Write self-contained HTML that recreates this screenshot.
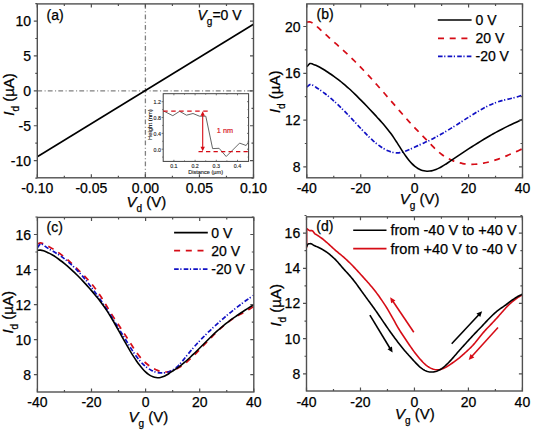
<!DOCTYPE html>
<html><head><meta charset="utf-8"><style>
html,body{margin:0;padding:0;background:#fff;}
svg{display:block;}
text{font-family:"Liberation Sans", sans-serif;fill:#000;stroke:#000;stroke-width:0.25px;}
svg{opacity:0.999;}
</style></head><body>
<svg width="533" height="431" viewBox="0 0 533 431">
<rect width="533" height="431" fill="#fff"/>
<path d="M37.3,90.85 H253.5" stroke="#808080" stroke-width="1.3" stroke-dasharray="4.8 2.5 1 2.2" fill="none"/>
<path d="M145.4,3.9 V177.8" stroke="#808080" stroke-width="1.3" stroke-dasharray="4.8 2.5 1 2.2" fill="none"/>
<path d="M37.3,156.7 L253.5,24.3" stroke="#000" stroke-width="1.6" fill="none"/>
<rect x="37.3" y="3.9" width="216.2" height="173.9" fill="none" stroke="#505050" stroke-width="1.4"/>
<path d="M37.30,177.8v-3.5 M37.30,3.9v3.5 M64.33,177.8v-2.0 M64.33,3.9v2.0 M91.35,177.8v-3.5 M91.35,3.9v3.5 M118.38,177.8v-2.0 M118.38,3.9v2.0 M145.40,177.8v-3.5 M145.40,3.9v3.5 M172.42,177.8v-2.0 M172.42,3.9v2.0 M199.45,177.8v-3.5 M199.45,3.9v3.5 M226.47,177.8v-2.0 M226.47,3.9v2.0 M253.50,177.8v-3.5 M253.50,3.9v3.5 M37.3,178.10h-2.0 M253.5,178.10h-2.0 M37.3,160.65h-3.5 M253.5,160.65h-3.5 M37.3,143.20h-2.0 M253.5,143.20h-2.0 M37.3,125.75h-3.5 M253.5,125.75h-3.5 M37.3,108.30h-2.0 M253.5,108.30h-2.0 M37.3,90.85h-3.5 M253.5,90.85h-3.5 M37.3,73.40h-2.0 M253.5,73.40h-2.0 M37.3,55.95h-3.5 M253.5,55.95h-3.5 M37.3,38.50h-2.0 M253.5,38.50h-2.0 M37.3,21.05h-3.5 M253.5,21.05h-3.5 M37.3,3.60h-2.0 M253.5,3.60h-2.0 " stroke="#505050" stroke-width="1.2" fill="none"/>
<text x="37.300000000000026" y="193.2" font-size="14" text-anchor="middle" >-0.10</text>
<text x="91.35000000000002" y="193.2" font-size="14" text-anchor="middle" >-0.05</text>
<text x="145.4" y="193.2" font-size="14" text-anchor="middle" >0.00</text>
<text x="199.45" y="193.2" font-size="14" text-anchor="middle" >0.05</text>
<text x="253.5" y="193.2" font-size="14" text-anchor="middle" >0.10</text>
<text x="30.999999999999996" y="26.049999999999983" font-size="14" text-anchor="end" >10</text>
<text x="30.999999999999996" y="60.94999999999999" font-size="14" text-anchor="end" >5</text>
<text x="30.999999999999996" y="95.85" font-size="14" text-anchor="end" >0</text>
<text x="30.999999999999996" y="130.75" font-size="14" text-anchor="end" >-5</text>
<text x="30.999999999999996" y="165.65" font-size="14" text-anchor="end" >-10</text>
<text x="46.5" y="19.6" font-size="14" text-anchor="start" >(a)</text>
<text x="197.5" y="19.5" font-size="14"><tspan font-style="italic">V</tspan><tspan font-size="10" dy="5">g</tspan><tspan dy="-5">=0 V</tspan></text>
<text x="126.4" y="207.3" font-size="15"><tspan font-style="italic">V</tspan><tspan font-size="10" dy="5">d</tspan><tspan dy="-5"> (V)</tspan></text>
<text transform="translate(14.0,115.7) rotate(-90)" font-size="15"><tspan font-style="italic">I</tspan><tspan font-size="10" dy="5">d</tspan><tspan dy="-5"> (µA)</tspan></text>
<rect x="163.2" y="93.7" width="85.4" height="67.7" fill="#fff" stroke="#404040" stroke-width="1.0"/>
<path d="M173.90,161.4v-1.6 M173.90,93.7v1.6 M184.50,161.4v-1.0 M184.50,93.7v1.0 M195.10,161.4v-1.6 M195.10,93.7v1.6 M205.70,161.4v-1.0 M205.70,93.7v1.0 M216.30,161.4v-1.6 M216.30,93.7v1.6 M226.90,161.4v-1.0 M226.90,93.7v1.0 M237.50,161.4v-1.6 M237.50,93.7v1.6 M163.2,157.12h-1.0 M248.6,157.12h-1.0 M163.2,149.20h-1.6 M248.6,149.20h-1.6 M163.2,141.28h-1.0 M248.6,141.28h-1.0 M163.2,133.36h-1.6 M248.6,133.36h-1.6 M163.2,125.44h-1.0 M248.6,125.44h-1.0 M163.2,117.52h-1.6 M248.6,117.52h-1.6 M163.2,109.60h-1.0 M248.6,109.60h-1.0 M163.2,101.68h-1.6 M248.6,101.68h-1.6 " stroke="#505050" stroke-width="0.8" fill="none"/>
<text x="173.9" y="167.9" font-size="5.3" text-anchor="middle" style="fill:#1a1a1a;stroke:#1a1a1a;stroke-width:0.12px">0.1</text>
<text x="195.10000000000002" y="167.9" font-size="5.3" text-anchor="middle" style="fill:#1a1a1a;stroke:#1a1a1a;stroke-width:0.12px">0.2</text>
<text x="216.3" y="167.9" font-size="5.3" text-anchor="middle" style="fill:#1a1a1a;stroke:#1a1a1a;stroke-width:0.12px">0.3</text>
<text x="237.5" y="167.9" font-size="5.3" text-anchor="middle" style="fill:#1a1a1a;stroke:#1a1a1a;stroke-width:0.12px">0.4</text>
<text x="160.89999999999998" y="104.17999999999998" font-size="5.3" text-anchor="end" style="fill:#1a1a1a;stroke:#1a1a1a;stroke-width:0.12px">1.2</text>
<text x="160.89999999999998" y="120.01999999999998" font-size="5.3" text-anchor="end" style="fill:#1a1a1a;stroke:#1a1a1a;stroke-width:0.12px">0.8</text>
<text x="160.89999999999998" y="135.85999999999999" font-size="5.3" text-anchor="end" style="fill:#1a1a1a;stroke:#1a1a1a;stroke-width:0.12px">0.4</text>
<text x="160.89999999999998" y="151.7" font-size="5.3" text-anchor="end" style="fill:#1a1a1a;stroke:#1a1a1a;stroke-width:0.12px">0.0</text>
<text x="205.6" y="173.9" font-size="5.6" text-anchor="middle" style="fill:#1a1a1a;stroke:#1a1a1a;stroke-width:0.12px">Distance (µm)</text>
<text transform="translate(152.3,124.6) rotate(-90)" font-size="5.9" text-anchor="middle" style="fill:#1a1a1a;stroke:#1a1a1a;stroke-width:0.12px">Height (nm)</text>
<path d="M163.20,110.80 L172.80,115.70 L179.60,111.30 L186.50,115.20 L193.00,113.50 L199.50,116.20 L205.80,116.20 L212.60,148.60 L219.10,148.30 L226.20,156.50 L239.60,143.10 L246.10,145.50 L248.60,141.80" stroke="#555" stroke-width="0.9" fill="none"/>
<path d="M163.2,111.2 H211" stroke="#d60c16" stroke-width="1.3" stroke-dasharray="4.5 3.5" fill="none"/>
<path d="M198.5,151.7 H248.6" stroke="#d60c16" stroke-width="1.3" stroke-dasharray="4.3 3.2" fill="none"/>
<path d="M202.7,115 V147.5" stroke="#d60c16" stroke-width="1.1" fill="none"/>
<path d="M202.7,111.3 l-2.2,4.5 h4.4z M202.7,151.2 l-2.2,-4.5 h4.4z" fill="#d60c16"/>
<text x="216.8" y="133.3" font-size="7.3" text-anchor="start" style="fill:#d60c16;stroke:#d60c16;stroke-width:0.15px">1 nm</text>
<path d="M306.80,22.12 C307.30,22.07 308.80,21.68 309.80,21.84 C310.80,22.01 311.80,22.52 312.80,23.12 C313.80,23.72 314.80,24.57 315.80,25.42 C316.80,26.26 317.80,27.26 318.80,28.20 C319.80,29.13 320.80,30.08 321.80,31.01 C322.80,31.93 323.80,32.85 324.80,33.76 C325.80,34.67 326.80,35.57 327.80,36.47 C328.80,37.36 329.80,38.26 330.80,39.15 C331.80,40.04 332.80,40.92 333.80,41.81 C334.80,42.70 335.80,43.59 336.80,44.48 C337.80,45.37 338.80,46.26 339.80,47.16 C340.80,48.06 341.80,48.96 342.80,49.87 C343.80,50.78 344.80,51.70 345.80,52.62 C346.80,53.55 347.80,54.49 348.80,55.44 C349.80,56.38 350.80,57.34 351.80,58.31 C352.80,59.28 353.80,60.26 354.80,61.26 C355.80,62.25 356.80,63.25 357.80,64.26 C358.80,65.28 359.80,66.30 360.80,67.34 C361.80,68.38 362.80,69.42 363.80,70.48 C364.80,71.54 365.80,72.61 366.80,73.68 C367.80,74.76 368.80,75.85 369.80,76.94 C370.80,78.03 371.80,79.13 372.80,80.24 C373.80,81.35 374.80,82.46 375.80,83.58 C376.80,84.71 377.80,85.83 378.80,86.96 C379.80,88.10 380.80,89.23 381.80,90.37 C382.80,91.51 383.80,92.66 384.80,93.80 C385.80,94.95 386.80,96.10 387.80,97.25 C388.80,98.41 389.80,99.56 390.80,100.71 C391.80,101.87 392.80,103.03 393.80,104.18 C394.80,105.34 395.80,106.49 396.80,107.64 C397.80,108.80 398.80,109.95 399.80,111.10 C400.80,112.25 401.80,113.40 402.80,114.54 C403.80,115.69 404.80,116.82 405.80,117.95 C406.80,119.08 407.80,120.20 408.80,121.31 C409.80,122.42 410.80,123.52 411.80,124.60 C412.80,125.69 413.80,126.75 414.80,127.81 C415.80,128.86 416.80,129.90 417.80,130.93 C418.80,131.97 419.80,132.98 420.80,134.01 C421.80,135.03 422.80,136.04 423.80,137.06 C424.80,138.08 425.80,139.10 426.80,140.14 C427.80,141.17 428.80,142.22 429.80,143.27 C430.80,144.31 431.80,145.38 432.80,146.40 C433.80,147.42 434.80,148.44 435.80,149.38 C436.80,150.33 437.80,151.23 438.80,152.07 C439.80,152.92 440.80,153.71 441.80,154.45 C442.80,155.19 443.80,155.87 444.80,156.51 C445.80,157.16 446.80,157.75 447.80,158.30 C448.80,158.85 449.80,159.35 450.80,159.82 C451.80,160.28 452.80,160.70 453.80,161.09 C454.80,161.47 455.80,161.82 456.80,162.13 C457.80,162.44 458.80,162.71 459.80,162.95 C460.80,163.19 461.80,163.40 462.80,163.57 C463.80,163.75 464.80,163.89 465.80,164.01 C466.80,164.12 467.80,164.20 468.80,164.26 C469.80,164.31 470.80,164.34 471.80,164.33 C472.80,164.33 473.80,164.30 474.80,164.25 C475.80,164.20 476.80,164.12 477.80,164.01 C478.80,163.91 479.80,163.78 480.80,163.63 C481.80,163.48 482.80,163.31 483.80,163.12 C484.80,162.93 485.80,162.71 486.80,162.48 C487.80,162.25 488.80,161.99 489.80,161.73 C490.80,161.46 491.80,161.17 492.80,160.87 C493.80,160.57 494.80,160.25 495.80,159.92 C496.80,159.58 497.80,159.24 498.80,158.88 C499.80,158.52 500.80,158.14 501.80,157.76 C502.80,157.38 503.80,156.98 504.80,156.58 C505.80,156.18 506.80,155.76 507.80,155.34 C508.80,154.92 509.80,154.49 510.80,154.06 C511.80,153.62 512.80,153.18 513.80,152.73 C514.80,152.29 515.80,151.83 516.80,151.38 C517.80,150.93 518.87,150.44 519.80,150.01 C520.73,149.58 521.97,149.01 522.40,148.81" stroke="#d60c16" stroke-width="1.7" stroke-dasharray="6 5.7" fill="none"/>
<path d="M306.90,87.04 C307.40,86.63 308.90,84.85 309.90,84.56 C310.90,84.26 311.90,84.86 312.90,85.30 C313.90,85.73 314.90,86.52 315.90,87.17 C316.90,87.81 317.90,88.48 318.90,89.16 C319.90,89.84 320.90,90.54 321.90,91.26 C322.90,91.99 323.90,92.73 324.90,93.50 C325.90,94.27 326.90,95.06 327.90,95.88 C328.90,96.70 329.90,97.54 330.90,98.40 C331.90,99.26 332.90,100.14 333.90,101.04 C334.90,101.94 335.90,102.86 336.90,103.80 C337.90,104.74 338.90,105.70 339.90,106.67 C340.90,107.64 341.90,108.63 342.90,109.62 C343.90,110.62 344.90,111.64 345.90,112.67 C346.90,113.69 347.90,114.73 348.90,115.78 C349.90,116.82 350.90,117.88 351.90,118.95 C352.90,120.01 353.90,121.09 354.90,122.17 C355.90,123.24 356.90,124.32 357.90,125.40 C358.90,126.47 359.90,127.55 360.90,128.61 C361.90,129.67 362.90,130.73 363.90,131.76 C364.90,132.80 365.90,133.82 366.90,134.82 C367.90,135.82 368.90,136.81 369.90,137.76 C370.90,138.71 371.90,139.64 372.90,140.53 C373.90,141.42 374.90,142.28 375.90,143.10 C376.90,143.92 377.90,144.71 378.90,145.44 C379.90,146.18 380.90,146.88 381.90,147.52 C382.90,148.17 383.90,148.76 384.90,149.30 C385.90,149.84 386.90,150.33 387.90,150.76 C388.90,151.18 389.90,151.55 390.90,151.85 C391.90,152.15 392.90,152.39 393.90,152.56 C394.90,152.72 395.90,152.82 396.90,152.84 C397.90,152.86 398.90,152.80 399.90,152.67 C400.90,152.53 401.90,152.31 402.90,152.03 C403.90,151.76 404.90,151.41 405.90,151.03 C406.90,150.65 407.90,150.21 408.90,149.77 C409.90,149.33 410.90,148.85 411.90,148.38 C412.90,147.92 413.90,147.44 414.90,146.98 C415.90,146.52 416.90,146.07 417.90,145.63 C418.90,145.18 419.90,144.74 420.90,144.30 C421.90,143.85 422.90,143.41 423.90,142.96 C424.90,142.51 425.90,142.06 426.90,141.59 C427.90,141.12 428.90,140.65 429.90,140.16 C430.90,139.67 431.90,139.16 432.90,138.65 C433.90,138.13 434.90,137.61 435.90,137.07 C436.90,136.54 437.90,135.99 438.90,135.43 C439.90,134.88 440.90,134.32 441.90,133.74 C442.90,133.17 443.90,132.59 444.90,132.00 C445.90,131.41 446.90,130.82 447.90,130.22 C448.90,129.61 449.90,129.01 450.90,128.39 C451.90,127.78 452.90,127.16 453.90,126.54 C454.90,125.91 455.90,125.29 456.90,124.66 C457.90,124.02 458.90,123.39 459.90,122.75 C460.90,122.12 461.90,121.48 462.90,120.84 C463.90,120.20 464.90,119.55 465.90,118.91 C466.90,118.27 467.90,117.63 468.90,116.99 C469.90,116.36 470.90,115.72 471.90,115.10 C472.90,114.47 473.90,113.85 474.90,113.24 C475.90,112.62 476.90,112.02 477.90,111.43 C478.90,110.83 479.90,110.25 480.90,109.68 C481.90,109.12 482.90,108.56 483.90,108.02 C484.90,107.49 485.90,106.96 486.90,106.46 C487.90,105.96 488.90,105.48 489.90,105.01 C490.90,104.55 491.90,104.11 492.90,103.69 C493.90,103.28 494.90,102.88 495.90,102.52 C496.90,102.15 497.90,101.81 498.90,101.50 C499.90,101.19 500.90,100.91 501.90,100.64 C502.90,100.37 503.90,100.12 504.90,99.88 C505.90,99.64 506.90,99.42 507.90,99.19 C508.90,98.96 509.90,98.74 510.90,98.50 C511.90,98.26 512.90,98.03 513.90,97.78 C514.90,97.52 515.90,97.26 516.90,96.96 C517.90,96.67 518.98,96.33 519.90,96.01 C520.82,95.70 521.98,95.24 522.40,95.08" stroke="#1010c4" stroke-width="1.7" stroke-dasharray="4.6 1.6 1.2 2.2" fill="none"/>
<path d="M306.90,66.82 C307.40,66.28 308.90,64.01 309.90,63.57 C310.90,63.12 311.90,63.86 312.90,64.15 C313.90,64.44 314.90,64.89 315.90,65.33 C316.90,65.77 317.90,66.26 318.90,66.77 C319.90,67.29 320.90,67.86 321.90,68.44 C322.90,69.02 323.90,69.64 324.90,70.27 C325.90,70.90 326.90,71.55 327.90,72.21 C328.90,72.88 329.90,73.55 330.90,74.24 C331.90,74.93 332.90,75.64 333.90,76.36 C334.90,77.08 335.90,77.81 336.90,78.57 C337.90,79.32 338.90,80.09 339.90,80.87 C340.90,81.66 341.90,82.47 342.90,83.29 C343.90,84.12 344.90,84.96 345.90,85.83 C346.90,86.70 347.90,87.58 348.90,88.49 C349.90,89.39 350.90,90.31 351.90,91.25 C352.90,92.19 353.90,93.14 354.90,94.11 C355.90,95.08 356.90,96.06 357.90,97.06 C358.90,98.05 359.90,99.06 360.90,100.08 C361.90,101.10 362.90,102.12 363.90,103.16 C364.90,104.20 365.90,105.24 366.90,106.30 C367.90,107.35 368.90,108.41 369.90,109.47 C370.90,110.53 371.90,111.60 372.90,112.67 C373.90,113.74 374.90,114.81 375.90,115.89 C376.90,116.97 377.90,118.04 378.90,119.14 C379.90,120.24 380.90,121.34 381.90,122.48 C382.90,123.61 383.90,124.76 384.90,125.95 C385.90,127.15 386.90,128.37 387.90,129.64 C388.90,130.91 389.90,132.21 390.90,133.58 C391.90,134.95 392.90,136.37 393.90,137.85 C394.90,139.32 395.90,140.88 396.90,142.43 C397.90,143.99 398.90,145.60 399.90,147.17 C400.90,148.75 401.90,150.34 402.90,151.87 C403.90,153.39 404.90,154.90 405.90,156.31 C406.90,157.71 407.90,159.07 408.90,160.30 C409.90,161.52 410.90,162.64 411.90,163.66 C412.90,164.67 413.90,165.56 414.90,166.36 C415.90,167.16 416.90,167.84 417.90,168.44 C418.90,169.03 419.90,169.52 420.90,169.91 C421.90,170.31 422.90,170.61 423.90,170.82 C424.90,171.04 425.90,171.15 426.90,171.19 C427.90,171.23 428.90,171.17 429.90,171.05 C430.90,170.92 431.90,170.71 432.90,170.44 C433.90,170.17 434.90,169.83 435.90,169.44 C436.90,169.05 437.90,168.60 438.90,168.11 C439.90,167.62 440.90,167.07 441.90,166.50 C442.90,165.93 443.90,165.32 444.90,164.69 C445.90,164.06 446.90,163.40 447.90,162.74 C448.90,162.07 449.90,161.38 450.90,160.70 C451.90,160.02 452.90,159.33 453.90,158.65 C454.90,157.97 455.90,157.29 456.90,156.62 C457.90,155.94 458.90,155.27 459.90,154.60 C460.90,153.93 461.90,153.26 462.90,152.60 C463.90,151.94 464.90,151.28 465.90,150.62 C466.90,149.97 467.90,149.32 468.90,148.67 C469.90,148.02 470.90,147.38 471.90,146.74 C472.90,146.10 473.90,145.46 474.90,144.84 C475.90,144.21 476.90,143.58 477.90,142.96 C478.90,142.34 479.90,141.72 480.90,141.11 C481.90,140.50 482.90,139.90 483.90,139.30 C484.90,138.70 485.90,138.11 486.90,137.52 C487.90,136.93 488.90,136.35 489.90,135.77 C490.90,135.20 491.90,134.63 492.90,134.06 C493.90,133.50 494.90,132.94 495.90,132.39 C496.90,131.84 497.90,131.30 498.90,130.76 C499.90,130.22 500.90,129.69 501.90,129.17 C502.90,128.65 503.90,128.13 504.90,127.62 C505.90,127.12 506.90,126.61 507.90,126.12 C508.90,125.63 509.90,125.14 510.90,124.67 C511.90,124.19 512.90,123.72 513.90,123.26 C514.90,122.80 515.90,122.35 516.90,121.90 C517.90,121.46 518.98,120.99 519.90,120.60 C520.82,120.20 521.98,119.72 522.40,119.55" stroke="#000" stroke-width="1.6" fill="none"/>
<rect x="306.8" y="3.9" width="215.7" height="173.9" fill="none" stroke="#505050" stroke-width="1.4"/>
<path d="M306.80,177.8v-3.5 M306.80,3.9v3.5 M333.76,177.8v-2.0 M333.76,3.9v2.0 M360.73,177.8v-3.5 M360.73,3.9v3.5 M387.69,177.8v-2.0 M387.69,3.9v2.0 M414.65,177.8v-3.5 M414.65,3.9v3.5 M441.61,177.8v-2.0 M441.61,3.9v2.0 M468.58,177.8v-3.5 M468.58,3.9v3.5 M495.54,177.8v-2.0 M495.54,3.9v2.0 M522.50,177.8v-3.5 M522.50,3.9v3.5 M306.8,166.90h-3.5 M522.5,166.90h-3.5 M306.8,143.50h-2.0 M522.5,143.50h-2.0 M306.8,120.10h-3.5 M522.5,120.10h-3.5 M306.8,96.70h-2.0 M522.5,96.70h-2.0 M306.8,73.30h-3.5 M522.5,73.30h-3.5 M306.8,49.90h-2.0 M522.5,49.90h-2.0 M306.8,26.50h-3.5 M522.5,26.50h-3.5 " stroke="#505050" stroke-width="1.2" fill="none"/>
<text x="306.8" y="193.2" font-size="14" text-anchor="middle" >-40</text>
<text x="360.725" y="193.2" font-size="14" text-anchor="middle" >-20</text>
<text x="414.65" y="193.2" font-size="14" text-anchor="middle" >0</text>
<text x="468.57500000000005" y="193.2" font-size="14" text-anchor="middle" >20</text>
<text x="522.5" y="193.2" font-size="14" text-anchor="middle" >40</text>
<text x="300.5" y="171.89999999999998" font-size="14" text-anchor="end" >8</text>
<text x="300.5" y="125.1" font-size="14" text-anchor="end" >12</text>
<text x="300.5" y="78.3" font-size="14" text-anchor="end" >16</text>
<text x="300.5" y="31.5" font-size="14" text-anchor="end" >20</text>
<text x="316.5" y="18.5" font-size="14" text-anchor="start" >(b)</text>
<text x="399.7" y="203.6" font-size="15"><tspan font-style="italic">V</tspan><tspan font-size="10" dy="5">g</tspan><tspan dy="-5"> (V)</tspan></text>
<text transform="translate(279.8,113.1) rotate(-90)" font-size="15"><tspan font-style="italic">I</tspan><tspan font-size="10" dy="5">d</tspan><tspan dy="-5"> (µA)</tspan></text>
<path d="M437.8,20 H471.6" stroke="#000" stroke-width="1.6"/>
<path d="M438,38.4 H470" stroke="#d60c16" stroke-width="1.7" stroke-dasharray="6 5.7"/>
<path d="M438,56.3 H471.5" stroke="#1010c4" stroke-width="1.7" stroke-dasharray="4.6 1.6 1.2 2.2"/>
<text x="475.5" y="25.2" font-size="14" text-anchor="start" >0 V</text>
<text x="475.5" y="43.4" font-size="14" text-anchor="start" >20 V</text>
<text x="475.5" y="61.2" font-size="14" text-anchor="start" >-20 V</text>
<path d="M37.50,243.93 C38.00,243.77 39.50,242.96 40.50,242.95 C41.50,242.94 42.50,243.47 43.50,243.87 C44.50,244.27 45.50,244.83 46.50,245.34 C47.50,245.84 48.50,246.36 49.50,246.90 C50.50,247.45 51.50,248.01 52.50,248.61 C53.50,249.21 54.50,249.84 55.50,250.50 C56.50,251.16 57.50,251.85 58.50,252.57 C59.50,253.29 60.50,254.04 61.50,254.82 C62.50,255.59 63.50,256.40 64.50,257.22 C65.50,258.04 66.50,258.89 67.50,259.76 C68.50,260.63 69.50,261.52 70.50,262.43 C71.50,263.34 72.50,264.27 73.50,265.21 C74.50,266.15 75.50,267.11 76.50,268.08 C77.50,269.04 78.50,270.03 79.50,271.02 C80.50,272.01 81.50,273.01 82.50,274.03 C83.50,275.04 84.50,276.06 85.50,277.11 C86.50,278.16 87.50,279.22 88.50,280.33 C89.50,281.44 90.50,282.58 91.50,283.76 C92.50,284.95 93.50,286.18 94.50,287.47 C95.50,288.76 96.50,290.09 97.50,291.50 C98.50,292.92 99.50,294.40 100.50,295.95 C101.50,297.49 102.50,299.14 103.50,300.78 C104.50,302.42 105.50,304.13 106.50,305.80 C107.50,307.47 108.50,309.16 109.50,310.80 C110.50,312.43 111.50,314.03 112.50,315.61 C113.50,317.18 114.50,318.72 115.50,320.25 C116.50,321.78 117.50,323.29 118.50,324.80 C119.50,326.31 120.50,327.80 121.50,329.31 C122.50,330.82 123.50,332.32 124.50,333.85 C125.50,335.38 126.50,336.92 127.50,338.49 C128.50,340.05 129.50,341.66 130.50,343.24 C131.50,344.82 132.50,346.43 133.50,347.96 C134.50,349.48 135.50,351.00 136.50,352.40 C137.50,353.80 138.50,355.12 139.50,356.36 C140.50,357.59 141.50,358.73 142.50,359.80 C143.50,360.86 144.50,361.84 145.50,362.75 C146.50,363.66 147.50,364.49 148.50,365.25 C149.50,366.01 150.50,366.70 151.50,367.33 C152.50,367.96 153.50,368.52 154.50,369.03 C155.50,369.54 156.50,369.99 157.50,370.38 C158.50,370.76 159.50,371.10 160.50,371.35 C161.50,371.61 162.50,371.80 163.50,371.90 C164.50,372.01 165.50,372.04 166.50,371.99 C167.50,371.93 168.50,371.79 169.50,371.59 C170.50,371.38 171.50,371.09 172.50,370.75 C173.50,370.40 174.50,369.98 175.50,369.50 C176.50,369.03 177.50,368.48 178.50,367.89 C179.50,367.30 180.50,366.65 181.50,365.96 C182.50,365.27 183.50,364.53 184.50,363.75 C185.50,362.97 186.50,362.14 187.50,361.28 C188.50,360.43 189.50,359.53 190.50,358.62 C191.50,357.70 192.50,356.75 193.50,355.78 C194.50,354.82 195.50,353.82 196.50,352.82 C197.50,351.82 198.50,350.80 199.50,349.77 C200.50,348.74 201.50,347.70 202.50,346.66 C203.50,345.62 204.50,344.57 205.50,343.52 C206.50,342.48 207.50,341.43 208.50,340.39 C209.50,339.35 210.50,338.31 211.50,337.29 C212.50,336.27 213.50,335.25 214.50,334.26 C215.50,333.26 216.50,332.28 217.50,331.32 C218.50,330.36 219.50,329.42 220.50,328.50 C221.50,327.59 222.50,326.70 223.50,325.85 C224.50,325.00 225.50,324.17 226.50,323.38 C227.50,322.60 228.50,321.85 229.50,321.13 C230.50,320.41 231.50,319.73 232.50,319.07 C233.50,318.41 234.50,317.78 235.50,317.17 C236.50,316.55 237.50,315.96 238.50,315.38 C239.50,314.79 240.50,314.23 241.50,313.66 C242.50,313.09 243.50,312.53 244.50,311.97 C245.50,311.41 246.50,310.85 247.50,310.27 C248.50,309.70 249.50,309.12 250.50,308.52 C251.50,307.93 253.00,306.99 253.50,306.68" stroke="#d60c16" stroke-width="1.7" stroke-dasharray="6 5.7" fill="none"/>
<path d="M37.50,247.63 C38.00,247.00 39.50,244.27 40.50,243.86 C41.50,243.45 42.50,244.58 43.50,245.17 C44.50,245.76 45.50,246.73 46.50,247.41 C47.50,248.09 48.50,248.67 49.50,249.26 C50.50,249.85 51.50,250.37 52.50,250.94 C53.50,251.51 54.50,252.07 55.50,252.68 C56.50,253.29 57.50,253.92 58.50,254.58 C59.50,255.24 60.50,255.93 61.50,256.65 C62.50,257.36 63.50,258.11 64.50,258.88 C65.50,259.66 66.50,260.46 67.50,261.29 C68.50,262.13 69.50,262.99 70.50,263.88 C71.50,264.78 72.50,265.70 73.50,266.66 C74.50,267.61 75.50,268.60 76.50,269.62 C77.50,270.64 78.50,271.69 79.50,272.78 C80.50,273.86 81.50,274.98 82.50,276.13 C83.50,277.28 84.50,278.47 85.50,279.69 C86.50,280.90 87.50,282.15 88.50,283.42 C89.50,284.70 90.50,286.00 91.50,287.33 C92.50,288.66 93.50,290.02 94.50,291.40 C95.50,292.78 96.50,294.19 97.50,295.61 C98.50,297.04 99.50,298.49 100.50,299.96 C101.50,301.43 102.50,302.92 103.50,304.43 C104.50,305.94 105.50,307.47 106.50,309.01 C107.50,310.55 108.50,312.11 109.50,313.68 C110.50,315.25 111.50,316.84 112.50,318.44 C113.50,320.03 114.50,321.64 115.50,323.26 C116.50,324.87 117.50,326.50 118.50,328.12 C119.50,329.75 120.50,331.38 121.50,333.01 C122.50,334.64 123.50,336.28 124.50,337.91 C125.50,339.54 126.50,341.17 127.50,342.79 C128.50,344.41 129.50,346.05 130.50,347.63 C131.50,349.21 132.50,350.79 133.50,352.28 C134.50,353.77 135.50,355.23 136.50,356.59 C137.50,357.94 138.50,359.21 139.50,360.39 C140.50,361.57 141.50,362.65 142.50,363.66 C143.50,364.66 144.50,365.57 145.50,366.40 C146.50,367.24 147.50,367.98 148.50,368.65 C149.50,369.31 150.50,369.90 151.50,370.40 C152.50,370.91 153.50,371.34 154.50,371.69 C155.50,372.04 156.50,372.32 157.50,372.52 C158.50,372.73 159.50,372.86 160.50,372.92 C161.50,372.98 162.50,372.97 163.50,372.90 C164.50,372.82 165.50,372.68 166.50,372.45 C167.50,372.22 168.50,371.93 169.50,371.54 C170.50,371.15 171.50,370.68 172.50,370.11 C173.50,369.54 174.50,368.88 175.50,368.11 C176.50,367.34 177.50,366.48 178.50,365.49 C179.50,364.51 180.50,363.38 181.50,362.21 C182.50,361.04 183.50,359.73 184.50,358.48 C185.50,357.23 186.50,355.95 187.50,354.73 C188.50,353.50 189.50,352.30 190.50,351.12 C191.50,349.94 192.50,348.78 193.50,347.64 C194.50,346.50 195.50,345.39 196.50,344.29 C197.50,343.19 198.50,342.12 199.50,341.06 C200.50,340.00 201.50,338.96 202.50,337.93 C203.50,336.91 204.50,335.90 205.50,334.90 C206.50,333.91 207.50,332.93 208.50,331.97 C209.50,331.00 210.50,330.05 211.50,329.11 C212.50,328.17 213.50,327.24 214.50,326.32 C215.50,325.40 216.50,324.49 217.50,323.59 C218.50,322.69 219.50,321.80 220.50,320.92 C221.50,320.04 222.50,319.16 223.50,318.30 C224.50,317.44 225.50,316.58 226.50,315.74 C227.50,314.90 228.50,314.06 229.50,313.24 C230.50,312.41 231.50,311.60 232.50,310.79 C233.50,309.99 234.50,309.19 235.50,308.41 C236.50,307.62 237.50,306.85 238.50,306.08 C239.50,305.32 240.50,304.56 241.50,303.82 C242.50,303.07 243.50,302.34 244.50,301.62 C245.50,300.89 246.50,300.18 247.50,299.48 C248.50,298.78 249.50,298.09 250.50,297.41 C251.50,296.73 253.00,295.73 253.50,295.40" stroke="#1010c4" stroke-width="1.7" stroke-dasharray="4.6 1.6 1.2 2.2" fill="none"/>
<path d="M37.50,250.21 C38.00,250.20 39.50,250.04 40.50,250.15 C41.50,250.26 42.50,250.54 43.50,250.85 C44.50,251.15 45.50,251.54 46.50,251.96 C47.50,252.38 48.50,252.85 49.50,253.36 C50.50,253.87 51.50,254.43 52.50,255.02 C53.50,255.61 54.50,256.25 55.50,256.91 C56.50,257.57 57.50,258.27 58.50,258.99 C59.50,259.72 60.50,260.47 61.50,261.25 C62.50,262.02 63.50,262.83 64.50,263.65 C65.50,264.47 66.50,265.31 67.50,266.17 C68.50,267.04 69.50,267.92 70.50,268.83 C71.50,269.73 72.50,270.66 73.50,271.60 C74.50,272.54 75.50,273.51 76.50,274.49 C77.50,275.48 78.50,276.48 79.50,277.50 C80.50,278.52 81.50,279.56 82.50,280.62 C83.50,281.68 84.50,282.75 85.50,283.84 C86.50,284.94 87.50,286.05 88.50,287.18 C89.50,288.30 90.50,289.45 91.50,290.61 C92.50,291.77 93.50,292.95 94.50,294.15 C95.50,295.36 96.50,296.58 97.50,297.84 C98.50,299.11 99.50,300.39 100.50,301.72 C101.50,303.05 102.50,304.41 103.50,305.82 C104.50,307.22 105.50,308.67 106.50,310.17 C107.50,311.67 108.50,313.22 109.50,314.82 C110.50,316.42 111.50,318.09 112.50,319.78 C113.50,321.47 114.50,323.22 115.50,324.98 C116.50,326.74 117.50,328.54 118.50,330.33 C119.50,332.13 120.50,333.95 121.50,335.76 C122.50,337.56 123.50,339.37 124.50,341.16 C125.50,342.94 126.50,344.72 127.50,346.46 C128.50,348.19 129.50,349.91 130.50,351.57 C131.50,353.22 132.50,354.85 133.50,356.41 C134.50,357.97 135.50,359.49 136.50,360.93 C137.50,362.37 138.50,363.75 139.50,365.05 C140.50,366.34 141.50,367.57 142.50,368.69 C143.50,369.82 144.50,370.87 145.50,371.80 C146.50,372.73 147.50,373.58 148.50,374.30 C149.50,375.02 150.50,375.63 151.50,376.12 C152.50,376.61 153.50,376.99 154.50,377.25 C155.50,377.52 156.50,377.66 157.50,377.70 C158.50,377.73 159.50,377.65 160.50,377.46 C161.50,377.27 162.50,376.95 163.50,376.55 C164.50,376.14 165.50,375.59 166.50,375.03 C167.50,374.46 168.50,373.79 169.50,373.14 C170.50,372.50 171.50,371.83 172.50,371.17 C173.50,370.51 174.50,369.86 175.50,369.17 C176.50,368.49 177.50,367.81 178.50,367.08 C179.50,366.36 180.50,365.61 181.50,364.83 C182.50,364.04 183.50,363.22 184.50,362.38 C185.50,361.54 186.50,360.66 187.50,359.77 C188.50,358.88 189.50,357.96 190.50,357.03 C191.50,356.09 192.50,355.14 193.50,354.17 C194.50,353.21 195.50,352.22 196.50,351.24 C197.50,350.25 198.50,349.25 199.50,348.25 C200.50,347.25 201.50,346.24 202.50,345.23 C203.50,344.22 204.50,343.21 205.50,342.21 C206.50,341.21 207.50,340.21 208.50,339.22 C209.50,338.24 210.50,337.26 211.50,336.29 C212.50,335.33 213.50,334.37 214.50,333.44 C215.50,332.51 216.50,331.59 217.50,330.70 C218.50,329.81 219.50,328.94 220.50,328.08 C221.50,327.23 222.50,326.40 223.50,325.59 C224.50,324.77 225.50,323.98 226.50,323.20 C227.50,322.42 228.50,321.66 229.50,320.91 C230.50,320.16 231.50,319.42 232.50,318.70 C233.50,317.98 234.50,317.27 235.50,316.57 C236.50,315.87 237.50,315.18 238.50,314.51 C239.50,313.83 240.50,313.16 241.50,312.50 C242.50,311.83 243.50,311.18 244.50,310.53 C245.50,309.88 246.50,309.24 247.50,308.60 C248.50,307.96 249.50,307.33 250.50,306.70 C251.50,306.06 253.00,305.12 253.50,304.80" stroke="#000" stroke-width="1.6" fill="none"/>
<rect x="37.4" y="217.4" width="216.4" height="174.6" fill="none" stroke="#505050" stroke-width="1.4"/>
<path d="M37.40,392.0v-3.5 M37.40,217.4v3.5 M64.45,392.0v-2.0 M64.45,217.4v2.0 M91.50,392.0v-3.5 M91.50,217.4v3.5 M118.55,392.0v-2.0 M118.55,217.4v2.0 M145.60,392.0v-3.5 M145.60,217.4v3.5 M172.65,392.0v-2.0 M172.65,217.4v2.0 M199.70,392.0v-3.5 M199.70,217.4v3.5 M226.75,392.0v-2.0 M226.75,217.4v2.0 M253.80,392.0v-3.5 M253.80,217.4v3.5 M37.4,374.66h-3.5 M253.8,374.66h-3.5 M37.4,357.14h-2.0 M253.8,357.14h-2.0 M37.4,339.62h-3.5 M253.8,339.62h-3.5 M37.4,322.10h-2.0 M253.8,322.10h-2.0 M37.4,304.58h-3.5 M253.8,304.58h-3.5 M37.4,287.06h-2.0 M253.8,287.06h-2.0 M37.4,269.54h-3.5 M253.8,269.54h-3.5 M37.4,252.02h-2.0 M253.8,252.02h-2.0 M37.4,234.50h-3.5 M253.8,234.50h-3.5 M37.4,216.98h-2.0 M253.8,216.98h-2.0 " stroke="#505050" stroke-width="1.2" fill="none"/>
<text x="37.4" y="407.4" font-size="14" text-anchor="middle" >-40</text>
<text x="91.5" y="407.4" font-size="14" text-anchor="middle" >-20</text>
<text x="145.6" y="407.4" font-size="14" text-anchor="middle" >0</text>
<text x="199.70000000000002" y="407.4" font-size="14" text-anchor="middle" >20</text>
<text x="253.8" y="407.4" font-size="14" text-anchor="middle" >40</text>
<text x="31.099999999999998" y="379.65999999999997" font-size="14" text-anchor="end" >8</text>
<text x="31.099999999999998" y="344.62" font-size="14" text-anchor="end" >10</text>
<text x="31.099999999999998" y="309.58" font-size="14" text-anchor="end" >12</text>
<text x="31.099999999999998" y="274.54" font-size="14" text-anchor="end" >14</text>
<text x="31.099999999999998" y="239.5" font-size="14" text-anchor="end" >16</text>
<text x="46.5" y="232.0" font-size="14" text-anchor="start" >(c)</text>
<text x="128.4" y="421.8" font-size="15"><tspan font-style="italic">V</tspan><tspan font-size="10" dy="5">g</tspan><tspan dy="-5"> (V)</tspan></text>
<text transform="translate(13.2,333.6) rotate(-90)" font-size="15"><tspan font-style="italic">I</tspan><tspan font-size="10" dy="5">d</tspan><tspan dy="-5"> (µA)</tspan></text>
<path d="M174.1,232.6 H207.8" stroke="#000" stroke-width="1.6"/>
<path d="M174.1,250.6 H206" stroke="#d60c16" stroke-width="1.7" stroke-dasharray="6 5.7"/>
<path d="M174.1,269.2 H207.8" stroke="#1010c4" stroke-width="1.7" stroke-dasharray="4.6 1.6 1.2 2.2"/>
<text x="211.3" y="237.6" font-size="14" text-anchor="start" >0 V</text>
<text x="211.3" y="255.6" font-size="14" text-anchor="start" >20 V</text>
<text x="211.3" y="274.2" font-size="14" text-anchor="start" >-20 V</text>
<path d="M306.7,247.8 V228.4" stroke="#d60c16" stroke-width="1.5" fill="none"/>
<path d="M306.70,228.50 L307.70,229.32 L308.70,230.13 L309.70,230.64 L310.70,230.59 L311.70,230.54 L312.70,231.02 L313.70,232.20 L314.70,233.57 L315.70,234.31 L316.70,234.90 L317.70,235.49 L318.70,236.12 L319.70,236.82 L320.70,237.54 L321.70,238.25 L322.70,238.99 L323.70,239.81 L324.70,240.66 L325.70,241.52 L326.70,242.38 L327.70,243.25 L328.70,244.15 L329.70,245.07 L330.70,246.00 L331.70,246.92 L332.70,247.85 L333.70,248.77 L334.70,249.66 L335.70,250.54 L336.70,251.40 L337.70,252.23 L338.70,253.05 L339.70,253.86 L340.70,254.68 L341.70,255.50 L342.70,256.35 L343.70,257.21 L344.70,258.10 L345.70,259.01 L346.70,259.93 L347.70,260.87 L348.70,261.82 L349.70,262.79 L350.70,263.77 L351.70,264.77 L352.70,265.79 L353.70,266.83 L354.70,267.89 L355.70,268.96 L356.70,270.04 L357.70,271.13 L358.70,272.23 L359.70,273.32 L360.70,274.42 L361.70,275.52 L362.70,276.63 L363.70,277.73 L364.70,278.84 L365.70,279.95 L366.70,281.07 L367.70,282.20 L368.70,283.33 L369.70,284.49 L370.70,285.66 L371.70,286.85 L372.70,288.06 L373.70,289.29 L374.70,290.55 L375.70,291.83 L376.70,293.13 L377.70,294.47 L378.70,295.84 L379.70,297.24 L380.70,298.68 L381.70,300.14 L382.70,301.62 L383.70,303.12 L384.70,304.64 L385.70,306.19 L386.70,307.78 L387.70,309.41 L388.70,311.08 L389.70,312.79 L390.70,314.54 L391.70,316.32 L392.70,318.12 L393.70,319.93 L394.70,321.73 L395.70,323.53 L396.70,325.30 L397.70,327.03 L398.70,328.72 L399.70,330.36 L400.70,331.96 L401.70,333.51 L402.70,335.04 L403.70,336.54 L404.70,338.03 L405.70,339.51 L406.70,341.00 L407.70,342.48 L408.70,343.96 L409.70,345.43 L410.70,346.89 L411.70,348.33 L412.70,349.73 L413.70,351.10 L414.70,352.44 L415.70,353.73 L416.70,355.00 L417.70,356.24 L418.70,357.45 L419.70,358.64 L420.70,359.79 L421.70,360.90 L422.70,361.97 L423.70,362.97 L424.70,363.91 L425.70,364.79 L426.70,365.59 L427.70,366.33 L428.70,367.00 L429.70,367.60 L430.70,368.12 L431.70,368.58 L432.70,368.97 L433.70,369.28 L434.70,369.53 L435.70,369.71 L436.70,369.81 L437.70,369.83 L438.70,369.76 L439.70,369.61 L440.70,369.38 L441.70,369.08 L442.70,368.71 L443.70,368.28 L444.70,367.80 L445.70,367.28 L446.70,366.71 L447.70,366.11 L448.70,365.49 L449.70,364.84 L450.70,364.17 L451.70,363.48 L452.70,362.78 L453.70,362.07 L454.70,361.34 L455.70,360.61 L456.70,359.86 L457.70,359.10 L458.70,358.32 L459.70,357.52 L460.70,356.69 L461.70,355.84 L462.70,354.96 L463.70,354.07 L464.70,353.17 L465.70,352.25 L466.70,351.33 L467.70,350.41 L468.70,349.48 L469.70,348.53 L470.70,347.56 L471.70,346.55 L472.70,345.50 L473.70,344.40 L474.70,343.25 L475.70,342.04 L476.70,340.80 L477.70,339.53 L478.70,338.25 L479.70,336.97 L480.70,335.71 L481.70,334.47 L482.70,333.27 L483.70,332.11 L484.70,330.98 L485.70,329.89 L486.70,328.82 L487.70,327.76 L488.70,326.72 L489.70,325.68 L490.70,324.64 L491.70,323.60 L492.70,322.55 L493.70,321.49 L494.70,320.42 L495.70,319.33 L496.70,318.22 L497.70,317.11 L498.70,315.97 L499.70,314.84 L500.70,313.69 L501.70,312.55 L502.70,311.41 L503.70,310.28 L504.70,309.17 L505.70,308.07 L506.70,307.00 L507.70,305.96 L508.70,304.95 L509.70,303.99 L510.70,303.07 L511.70,302.20 L512.70,301.36 L513.70,300.55 L514.70,299.78 L515.70,299.03 L516.70,298.30 L517.70,297.61 L518.70,296.95 L519.70,296.35 L520.70,295.82 L521.70,295.38 L522.20,294.40 L522.20,294.40" stroke="#d60c16" stroke-width="1.6" fill="none"/>
<path d="M306.70,246.60 L307.70,244.25 L308.70,243.75 L309.70,243.69 L310.70,243.65 L311.70,243.91 L312.70,244.60 L313.70,245.22 L314.70,245.70 L315.70,246.16 L316.70,246.62 L317.70,247.09 L318.70,247.55 L319.70,248.02 L320.70,248.48 L321.70,248.99 L322.70,249.61 L323.70,250.25 L324.70,250.89 L325.70,251.54 L326.70,252.21 L327.70,252.91 L328.70,253.66 L329.70,254.48 L330.70,255.31 L331.70,256.17 L332.70,257.06 L333.70,257.99 L334.70,258.94 L335.70,259.94 L336.70,260.98 L337.70,262.07 L338.70,263.20 L339.70,264.36 L340.70,265.53 L341.70,266.71 L342.70,267.88 L343.70,269.03 L344.70,270.15 L345.70,271.25 L346.70,272.33 L347.70,273.41 L348.70,274.50 L349.70,275.60 L350.70,276.73 L351.70,277.90 L352.70,279.12 L353.70,280.38 L354.70,281.69 L355.70,283.03 L356.70,284.39 L357.70,285.77 L358.70,287.16 L359.70,288.56 L360.70,289.95 L361.70,291.35 L362.70,292.73 L363.70,294.12 L364.70,295.50 L365.70,296.87 L366.70,298.24 L367.70,299.60 L368.70,300.96 L369.70,302.32 L370.70,303.68 L371.70,305.05 L372.70,306.43 L373.70,307.82 L374.70,309.22 L375.70,310.64 L376.70,312.07 L377.70,313.52 L378.70,314.98 L379.70,316.44 L380.70,317.91 L381.70,319.38 L382.70,320.85 L383.70,322.33 L384.70,323.80 L385.70,325.26 L386.70,326.72 L387.70,328.17 L388.70,329.61 L389.70,331.03 L390.70,332.45 L391.70,333.84 L392.70,335.22 L393.70,336.59 L394.70,337.94 L395.70,339.27 L396.70,340.59 L397.70,341.89 L398.70,343.19 L399.70,344.47 L400.70,345.74 L401.70,347.00 L402.70,348.24 L403.70,349.46 L404.70,350.65 L405.70,351.82 L406.70,352.96 L407.70,354.09 L408.70,355.21 L409.70,356.31 L410.70,357.41 L411.70,358.51 L412.70,359.61 L413.70,360.70 L414.70,361.78 L415.70,362.85 L416.70,363.90 L417.70,364.92 L418.70,365.90 L419.70,366.82 L420.70,367.68 L421.70,368.47 L422.70,369.18 L423.70,369.81 L424.70,370.37 L425.70,370.84 L426.70,371.23 L427.70,371.54 L428.70,371.78 L429.70,371.93 L430.70,372.02 L431.70,372.04 L432.70,371.99 L433.70,371.88 L434.70,371.70 L435.70,371.45 L436.70,371.15 L437.70,370.77 L438.70,370.33 L439.70,369.82 L440.70,369.24 L441.70,368.59 L442.70,367.88 L443.70,367.10 L444.70,366.26 L445.70,365.37 L446.70,364.44 L447.70,363.47 L448.70,362.46 L449.70,361.42 L450.70,360.35 L451.70,359.25 L452.70,358.12 L453.70,356.97 L454.70,355.82 L455.70,354.66 L456.70,353.50 L457.70,352.34 L458.70,351.19 L459.70,350.06 L460.70,348.94 L461.70,347.83 L462.70,346.72 L463.70,345.62 L464.70,344.53 L465.70,343.43 L466.70,342.33 L467.70,341.23 L468.70,340.13 L469.70,339.03 L470.70,337.94 L471.70,336.85 L472.70,335.77 L473.70,334.71 L474.70,333.66 L475.70,332.62 L476.70,331.59 L477.70,330.56 L478.70,329.54 L479.70,328.51 L480.70,327.47 L481.70,326.43 L482.70,325.37 L483.70,324.30 L484.70,323.22 L485.70,322.14 L486.70,321.08 L487.70,320.02 L488.70,318.98 L489.70,317.97 L490.70,316.97 L491.70,316.00 L492.70,315.04 L493.70,314.10 L494.70,313.19 L495.70,312.31 L496.70,311.46 L497.70,310.66 L498.70,309.89 L499.70,309.16 L500.70,308.46 L501.70,307.78 L502.70,307.10 L503.70,306.41 L504.70,305.71 L505.70,305.00 L506.70,304.25 L507.70,303.49 L508.70,302.72 L509.70,301.94 L510.70,301.18 L511.70,300.44 L512.70,299.73 L513.70,299.05 L514.70,298.39 L515.70,297.76 L516.70,297.14 L517.70,296.55 L518.70,295.99 L519.70,295.48 L520.70,295.03 L521.70,294.65 L522.20,293.80 L522.20,293.80" stroke="#000" stroke-width="1.6" fill="none"/>
<path d="M369.90,315.20 L390.27,348.75" stroke="#000" stroke-width="1.6" fill="none"/>
<path d="M392.60,352.60 L387.52,349.25 L391.97,346.55z" fill="#000"/>
<path d="M413.80,332.30 L392.72,301.03" stroke="#d60c16" stroke-width="1.6" fill="none"/>
<path d="M390.20,297.30 L395.43,300.41 L391.12,303.31z" fill="#d60c16"/>
<path d="M451.70,343.80 L479.03,314.49" stroke="#000" stroke-width="1.6" fill="none"/>
<path d="M482.10,311.20 L480.25,317.00 L476.45,313.45z" fill="#000"/>
<path d="M498.00,327.50 L471.72,356.56" stroke="#d60c16" stroke-width="1.6" fill="none"/>
<path d="M468.70,359.90 L470.46,354.08 L474.32,357.56z" fill="#d60c16"/>
<rect x="306.5" y="216.8" width="215.89999999999998" height="174.2" fill="none" stroke="#505050" stroke-width="1.4"/>
<path d="M306.50,391.0v-3.5 M306.50,216.8v3.5 M333.49,391.0v-2.0 M333.49,216.8v2.0 M360.48,391.0v-3.5 M360.48,216.8v3.5 M387.46,391.0v-2.0 M387.46,216.8v2.0 M414.45,391.0v-3.5 M414.45,216.8v3.5 M441.44,391.0v-2.0 M441.44,216.8v2.0 M468.42,391.0v-3.5 M468.42,216.8v3.5 M495.41,391.0v-2.0 M495.41,216.8v2.0 M522.40,391.0v-3.5 M522.40,216.8v3.5 M306.5,373.82h-3.5 M522.4,373.82h-3.5 M306.5,356.23h-2.0 M522.4,356.23h-2.0 M306.5,338.64h-3.5 M522.4,338.64h-3.5 M306.5,321.05h-2.0 M522.4,321.05h-2.0 M306.5,303.46h-3.5 M522.4,303.46h-3.5 M306.5,285.87h-2.0 M522.4,285.87h-2.0 M306.5,268.28h-3.5 M522.4,268.28h-3.5 M306.5,250.69h-2.0 M522.4,250.69h-2.0 M306.5,233.10h-3.5 M522.4,233.10h-3.5 M306.5,215.51h-2.0 M522.4,215.51h-2.0 " stroke="#505050" stroke-width="1.2" fill="none"/>
<text x="306.5" y="406.6" font-size="14" text-anchor="middle" >-40</text>
<text x="360.475" y="406.6" font-size="14" text-anchor="middle" >-20</text>
<text x="414.45" y="406.6" font-size="14" text-anchor="middle" >0</text>
<text x="468.42499999999995" y="406.6" font-size="14" text-anchor="middle" >20</text>
<text x="522.4" y="406.6" font-size="14" text-anchor="middle" >40</text>
<text x="300.2" y="378.82" font-size="14" text-anchor="end" >8</text>
<text x="300.2" y="343.64" font-size="14" text-anchor="end" >10</text>
<text x="300.2" y="308.46" font-size="14" text-anchor="end" >12</text>
<text x="300.2" y="273.28" font-size="14" text-anchor="end" >14</text>
<text x="300.2" y="238.1" font-size="14" text-anchor="end" >16</text>
<text x="316.3" y="230.9" font-size="14" text-anchor="start" >(d)</text>
<text x="395.1" y="418.7" font-size="15"><tspan font-style="italic">V</tspan><tspan font-size="10" dy="5">g</tspan><tspan dy="-5"> (V)</tspan></text>
<text transform="translate(281.0,326.6) rotate(-90)" font-size="15"><tspan font-style="italic">I</tspan><tspan font-size="10" dy="5">d</tspan><tspan dy="-5"> (µA)</tspan></text>
<path d="M353.2,230.2 H386.5" stroke="#000" stroke-width="1.6"/>
<path d="M353.2,248.6 H386.5" stroke="#d60c16" stroke-width="1.6"/>
<text x="390.5" y="235.4" font-size="14.5" text-anchor="start" >from -40 V to +40 V</text>
<text x="390.5" y="253.8" font-size="14.5" text-anchor="start" >from +40 V to -40 V</text>
</svg>
</body></html>
